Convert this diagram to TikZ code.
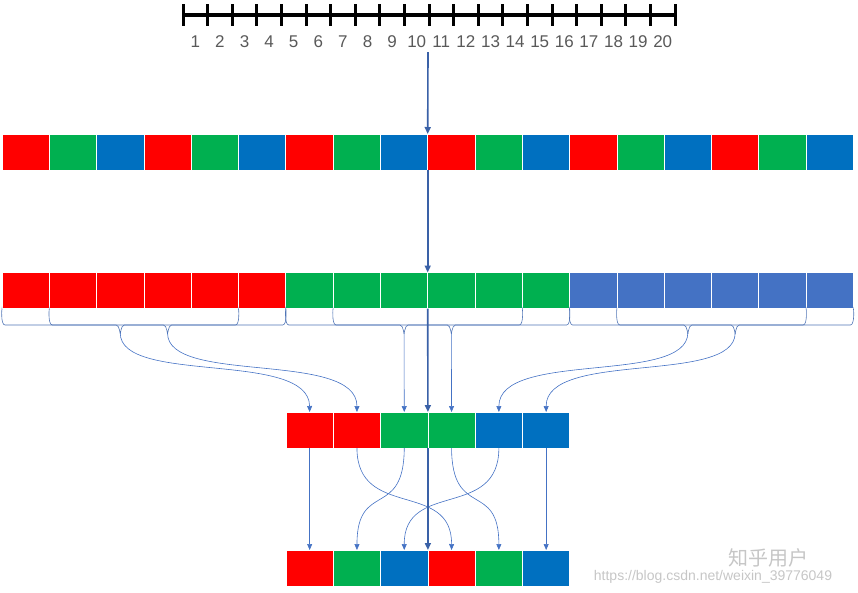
\documentclass[tikz,border=0pt]{standalone}
\usepackage{fontspec}
\setmainfont{Liberation Sans}
\newfontfamily\cjk{Noto Sans CJK SC}
\usetikzlibrary{arrows.meta}
\definecolor{cR}{HTML}{FF0000}
\definecolor{cG}{HTML}{00B050}
\definecolor{cB}{HTML}{0070C0}
\definecolor{cB2}{HTML}{4472C4}
\definecolor{ln}{HTML}{4472C4}
\definecolor{txt}{HTML}{595959}
\tikzset{
 cell/.style={draw=white,line width=0.8pt,minimum width=47.3pt,minimum height=36pt,inner sep=0pt,outer sep=0pt},
 con/.style={draw=ln,line width=0.6pt,-{Triangle[width=5pt,length=6pt]}},
 thick con/.style={draw=ln!85!black,line width=1.6pt,-{Triangle[width=6pt,length=7pt]}},
 brace/.style={draw=ln!80!gray,line width=0.6pt},
 lbl/.style={font=\fontsize{17}{17}\selectfont,text=txt,inner sep=0pt}
}
\begin{document}
\begin{tikzpicture}[x=1pt,y=-1pt]
\useasboundingbox (0,0) rectangle (858,592);
% ruler
\draw[line width=3.6pt] (183,15) -- (675,15);
\foreach \i in {0,...,20}{\draw[line width=3pt] (183+24.6*\i,4) -- (183+24.6*\i,26);}
\foreach \i in {1,...,20}{\node[lbl] (t\i) at (183+24.6*\i-12.3,42) {\i};}
% row1
\foreach \i in {1,...,18}{
 \pgfmathtruncatemacro\m{mod(\i-1,3)}
 \ifcase\m \def\c{cR}\or \def\c{cG}\or \def\c{cB}\fi
 \node[cell,fill=\c] (a\i) at (2+47.3*\i-23.65,152) {};}
% row2
\foreach \i in {1,...,18}{
 \pgfmathtruncatemacro\m{int((\i-1)/6)}
 \ifcase\m \def\c{cR}\or \def\c{cG}\or \def\c{cB2}\fi
 \node[cell,fill=\c] (b\i) at (2+47.3*\i-23.65,290.5) {};}
% row3
\foreach \i/\c in {1/cR,2/cR,3/cG,4/cG,5/cB,6/cB}{
 \node[cell,fill=\c] (c\i) at (286+47.3*\i-23.65,430) {};}
% row4
\foreach \i/\c in {1/cR,2/cG,3/cB,4/cR,5/cG,6/cB}{
 \node[cell,fill=\c] (d\i) at (286+47.3*\i-23.65,568) {};}
% braces
\foreach \s/\n in {0/1,1/2,6/3,7/4,12/5,13/6}{
 \pgfmathsetmacro\xa{2+47.3*\s}
 \pgfmathsetmacro\xb{\xa+47.3*5}
 \pgfmathsetmacro\xt{(\xa+\xb)/2}
 \draw[brace] (\xa,310) to[out=90,in=180,looseness=0.8] (\xa+3,325) -- (\xt-4,325) to[out=0,in=-90] (\xt,333) to[out=-90,in=180] (\xt+4,325) -- (\xb-3,325) to[out=0,in=90,looseness=0.8] (\xb,310);
 \coordinate (k\n) at (\xt,333);}
% brace to row3
\draw[con] (k1) .. controls (120,385) and (309,350) .. (c1.north);
\draw[con] (k2) .. controls (167,385) and (357,350) .. (c2.north);
\draw[con] (k3) -- (c3.north);
\draw[con] (k4) -- (c4.north);
\draw[con] (k5) .. controls (687,385) and (499,350) .. (c5.north);
\draw[con] (k6) .. controls (735,385) and (546,350) .. (c6.north);
% row3 to row4
\draw[con] (c1.south) -- (d1.north);
\draw[con] (c2.south) .. controls (357,520) and (452,480) .. (d4.north);
\draw[con] (c3.south) .. controls (404,520) and (357,480) .. (d2.north);
\draw[con] (c4.south) .. controls (452,520) and (499,480) .. (d5.north);
\draw[con] (c5.south) .. controls (499,520) and (404,480) .. (d3.north);
\draw[con] (c6.south) -- (d6.north);
% thick line
\coordinate (top) at (428,52);
\draw[thick con] (top) -- (a10.north west);
\draw[thick con] (a10.south west) -- (b10.north west);
\draw[thick con] (b10.south west) -- (c4.north west);
\draw[thick con] (c4.south west) -- (d4.north west);
% watermark
\node[text=gray!45,font=\cjk\fontsize{20}{20}\selectfont,inner sep=0pt] (wm1) at (768,558) {知乎用户};
\node[text=gray!45,font=\fontsize{14}{14}\selectfont,inner sep=0pt] (wm2) at (713,577) {https://blog.csdn.net/weixin\_39776049};
\end{tikzpicture}
\end{document}
